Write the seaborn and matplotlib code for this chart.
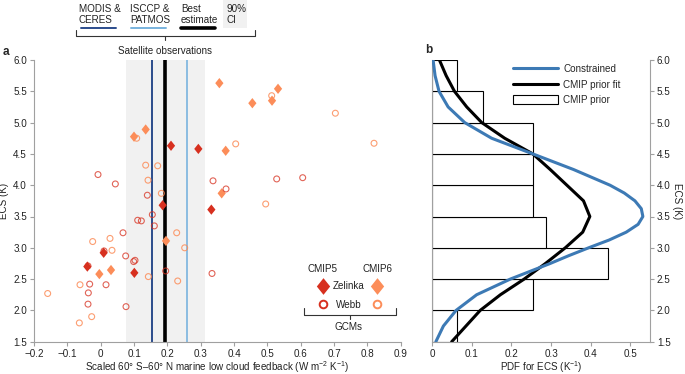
import numpy as np
import pandas as pd
import matplotlib
matplotlib.use("Agg")
import matplotlib.pyplot as plt
import seaborn as sns
from matplotlib.lines import Line2D
from matplotlib.patches import Patch, Rectangle
from matplotlib.path import Path

# ---------------- data ----------------
# Panel a: GCM estimates (x: scaled low-cloud feedback, y: ECS)
zel5_x = [0.211, 0.293, 0.186, 0.332, -0.040, 0.009, 0.101]
zel5_y = [4.63, 4.58, 3.68, 3.61, 2.70, 2.92, 2.60]
zel6_x = [0.100, 0.135, 0.356, 0.375, 0.363, 0.196, -0.004, 0.031, 0.455, 0.532, 0.514]
zel6_y = [4.775, 4.89, 5.63, 4.55, 3.87, 3.11, 2.58, 2.645, 5.31, 5.54, 5.35]
webb5_x = [-0.008, 0.044, 0.140, 0.337, 0.376, 0.155, 0.111, 0.122, 0.161, 0.067,
           0.075, 0.103, 0.099, 0.195, 0.334, -0.033, 0.016, -0.037, -0.038, 0.076,
           0.528, 0.606, 0.010, -0.038]
webb5_y = [4.17, 4.02, 3.84, 4.07, 3.94, 3.53, 3.44, 3.43, 3.35, 3.24,
           2.87, 2.80, 2.78, 2.63, 2.59, 2.42, 2.41, 2.28, 2.10, 2.06,
           4.10, 4.12, 2.95, 2.71]
webb6_x = [0.135, 0.171, 0.142, 0.182, 0.228, 0.252, 0.143, 0.231, -0.024, 0.028,
           0.034, -0.062, -0.159, -0.027, -0.064, 0.108, 0.405, 0.513, 0.704, 0.820, 0.495]
webb6_y = [4.32, 4.31, 4.08, 3.87, 3.24, 3.00, 2.54, 2.47, 3.10, 3.15,
           2.96, 2.41, 2.27, 1.90, 1.80, 4.75, 4.66, 5.43, 5.15, 4.67, 3.70]

# Satellite observations
obs_ci = [0.076, 0.312]
obs_modis = 0.153
obs_isccp = 0.259
obs_best = 0.192

# Panel b: CMIP prior histogram and PDFs
ecs_edges = [1.5, 2.0, 2.5, 3.0, 3.5, 4.0, 4.5, 5.0, 5.5, 6.0]
prior_density = [0.0635, 0.254, 0.444, 0.286, 0.254, 0.254, 0.254, 0.127, 0.0635]

prior_ecs = [1.5, 1.75, 2.0, 2.25, 2.5, 2.75, 3.0, 3.25, 3.5, 3.75, 4.0, 4.25, 4.5,
             4.75, 5.0, 5.25, 5.5, 5.75, 6.0]
prior_fit = [0.049, 0.085, 0.121, 0.172, 0.232, 0.286, 0.336, 0.380, 0.398, 0.382,
             0.340, 0.298, 0.254, 0.183, 0.125, 0.087, 0.056, 0.035, 0.018]

con_ecs = [1.5, 1.75, 2.0, 2.25, 2.5, 2.75, 2.875, 3.0, 3.125, 3.25, 3.375, 3.5,
           3.625, 3.75, 3.875, 4.0, 4.25, 4.5, 4.75, 5.0, 5.25, 5.5, 5.75, 6.0]
con_pdf = [0.009, 0.028, 0.060, 0.112, 0.197, 0.298, 0.345, 0.395, 0.447, 0.490,
           0.520, 0.532, 0.528, 0.512, 0.485, 0.449, 0.357, 0.254, 0.150, 0.082,
           0.040, 0.017, 0.007, 0.002]

# tick labels
a_xticks = [-0.2, -0.1, 0.0, 0.1, 0.2, 0.3, 0.4, 0.5, 0.6, 0.7, 0.8, 0.9]
a_xticklabels = ["\u22120.2", "\u22120.1", "0", "0.1", "0.2", "0.3", "0.4", "0.5",
                 "0.6", "0.7", "0.8", "0.9"]
ecs_ticks = [1.5, 2.0, 2.5, 3.0, 3.5, 4.0, 4.5, 5.0, 5.5, 6.0]
ecs_ticklabels = ["1.5", "2.0", "2.5", "3.0", "3.5", "4.0", "4.5", "5.0", "5.5", "6.0"]
b_xticks = [0, 0.1, 0.2, 0.3, 0.4, 0.5]
b_xticklabels = ["0", "0.1", "0.2", "0.3", "0.4", "0.5"]

# ---------------- style ----------------
FS = 7.1
sns.set_theme(style="ticks")
plt.rcParams["font.family"] = ["Liberation Sans", "DejaVu Sans"]
plt.rcParams["font.size"] = FS
SPINE = "#a0a0a0"
TXT = "#222222"
plt.rcParams.update({
    "axes.edgecolor": SPINE, "xtick.color": SPINE, "ytick.color": SPINE,
    "xtick.labelcolor": TXT, "ytick.labelcolor": TXT, "axes.labelcolor": TXT,
    "xtick.labelsize": FS, "ytick.labelsize": FS, "axes.labelsize": FS,
    "xtick.major.size": 3, "ytick.major.size": 3,
    "xtick.major.width": 0.8, "ytick.major.width": 0.8,
    "axes.linewidth": 0.8,
    "mathtext.fontset": "custom",
    "mathtext.rm": "Liberation Sans",
    "mathtext.it": "Liberation Sans:italic",
    "mathtext.bf": "Liberation Sans:bold",
})

C5 = "#d7301f"
C6 = "#fc8d59"
C_MODIS = "#2b4c8c"
C_ISCCP = "#79b3de"
C_BAND = "#f1f1f1"
C_BLUE = "#3d7ab5"

fig = plt.figure(figsize=(6.85, 3.74), dpi=100)
W, H = 685, 374
axa = fig.add_axes([34 / W, 1 - 341.7 / H, 366.7 / W, 281.7 / H])
axb = fig.add_axes([432.3 / W, 1 - 341.7 / H, 217.7 / W, 281.7 / H])

# ---------------- panel a ----------------
axa.axvspan(obs_ci[0], obs_ci[1], color=C_BAND, lw=0, zorder=0)
axa.axvline(obs_modis, color=C_MODIS, lw=1.4, zorder=1)
axa.axvline(obs_isccp, color=C_ISCCP, lw=1.2, zorder=1)
axa.axvline(obs_best, color="black", lw=2.6, zorder=1)

diamond = Path([(0, 1), (0.8, 0), (0, -1), (-0.8, 0), (0, 1)],
               [Path.MOVETO, Path.LINETO, Path.LINETO, Path.LINETO, Path.CLOSEPOLY])

sns.scatterplot(x=zel5_x, y=zel5_y, marker=diamond, s=55, color=C5,
                edgecolor="none", linewidth=0, ax=axa, zorder=3)
sns.scatterplot(x=zel6_x, y=zel6_y, marker=diamond, s=55, color=C6,
                edgecolor="none", linewidth=0, ax=axa, zorder=3)
sns.scatterplot(x=webb5_x, y=webb5_y, marker="o", s=18, facecolor="none",
                edgecolor=C5, linewidth=0.8, alpha=0.75, ax=axa, zorder=4)
sns.scatterplot(x=webb6_x, y=webb6_y, marker="o", s=18, facecolor="none",
                edgecolor=C6, linewidth=0.8, alpha=0.85, ax=axa, zorder=4)

axa.set_xlim(-0.2, 0.9)
axa.set_ylim(1.5, 6.0)
axa.set_xticks(a_xticks)
axa.set_xticklabels(a_xticklabels)
axa.set_yticks(ecs_ticks)
axa.set_yticklabels(ecs_ticklabels)
axa.tick_params(pad=2)
sns.despine(ax=axa)
axa.set_xlabel("Scaled 60\u00b0 S\u201360\u00b0 N marine low cloud feedback (W m$^{-2}$ K$^{-1}$)",
               labelpad=0.5)
axa.set_ylabel("ECS (K)", labelpad=3)

# scatter legend (2 x 2 grid of keys)
h_z5 = Line2D([], [], ls="none", marker=diamond, ms=12, color=C5, mec="none")
h_w5 = Line2D([], [], ls="none", marker="o", ms=5.5, mfc="none", mec=C5, mew=1.4)
h_z6 = Line2D([], [], ls="none", marker=diamond, ms=12, color=C6, mec="none")
h_w6 = Line2D([], [], ls="none", marker="o", ms=5.5, mfc="none", mec=C6, mew=1.4)
handle_w = 1.0
col_sp = 54.0 / (FS * 100 / 72) - handle_w
leg = axa.legend(handles=[h_z5, h_w5, h_z6, h_w6], labels=["", "", "", ""], ncol=2,
                 frameon=False, handlelength=handle_w, handletextpad=0.0,
                 columnspacing=col_sp, labelspacing=0.85, borderpad=0,
                 loc="center", bbox_to_anchor=(0.8615, 0.1644), fontsize=FS)
T = axa.transAxes
axa.text(0.7854, 0.258, "CMIP5", transform=T, ha="center", va="center", fontsize=FS, color=TXT)
axa.text(0.9354, 0.258, "CMIP6", transform=T, ha="center", va="center", fontsize=FS, color=TXT)
axa.text(0.859, 0.1988, "Zelinka", transform=T, ha="center", va="center", fontsize=FS, color=TXT)
axa.text(0.859, 0.1303, "Webb", transform=T, ha="center", va="center", fontsize=FS, color=TXT)
axa.text(0.859, 0.0522, "GCMs", transform=T, ha="center", va="center", fontsize=FS, color=TXT)
for xs, ys in [([0.7363, 0.7363, 0.9872, 0.9872], [0.1196, 0.0948, 0.0948, 0.1196]),
               ([0.8617, 0.8617], [0.0948, 0.0806])]:
    axa.add_line(Line2D(xs, ys, transform=T, color="#333333", lw=0.8, clip_on=False))

# satellite observation key above the panel
ytop = 1.200
for xt, s in [(0.1227, "MODIS &\nCERES"), (0.2618, "ISCCP &\nPATMOS"),
              (0.4009, "Best\nestimate")]:
    axa.text(xt, ytop, s, transform=T, ha="left", va="top",
             fontsize=FS, color=TXT, linespacing=1.2)
axa.add_patch(Rectangle((0.5154, 1.1136), 0.0655, 0.0994, transform=T,
                        facecolor=C_BAND, edgecolor="none", clip_on=False))
axa.text(0.5236, ytop, "90%\nCI", transform=T, ha="left", va="top",
         fontsize=FS, color=TXT, linespacing=1.2)
axa.add_line(Line2D([0.128, 0.2236], [1.1148, 1.1148], transform=T, color=C_MODIS,
                    lw=1.4, clip_on=False))
axa.add_line(Line2D([0.2645, 0.36], [1.1148, 1.1148], transform=T, color=C_ISCCP,
                    lw=1.4, clip_on=False))
axa.add_line(Line2D([0.4009, 0.4936], [1.1148, 1.1148], transform=T, color="black",
                    lw=2.6, clip_on=False))
for xs, ys in [([0.1145, 0.1145, 0.6027, 0.6027], [1.1065, 1.085, 1.085, 1.1065]),
               ([0.3572, 0.3572], [1.085, 1.071])]:
    axa.add_line(Line2D(xs, ys, transform=T, color="#333333", lw=0.8, clip_on=False))
axa.text(0.3572, 1.032, "Satellite observations", transform=T, ha="center",
         va="center", fontsize=FS, color=TXT)

# ---------------- panel b ----------------
centers = [(a + b) / 2 for a, b in zip(ecs_edges[:-1], ecs_edges[1:])]
sns.histplot(y=centers, weights=prior_density, bins=ecs_edges, stat="count",
             color="white", edgecolor="black", linewidth=0.8, alpha=1, ax=axb, zorder=1)
sns.lineplot(x=prior_fit, y=prior_ecs, sort=False, estimator=None, color="black",
             lw=2.2, ax=axb, zorder=2)
sns.lineplot(x=con_pdf, y=con_ecs, sort=False, estimator=None, color=C_BLUE,
             lw=2.2, ax=axb, zorder=3)
axb.set_xlim(0, 0.55)
axb.set_ylim(1.5, 6.0)
axb.set_xticks(b_xticks)
axb.set_xticklabels(b_xticklabels)
axb.set_yticks(ecs_ticks)
axb.set_yticklabels(ecs_ticklabels)
axb.yaxis.tick_right()
axb.yaxis.set_label_position("right")
axb.spines["top"].set_visible(False)
axb.tick_params(pad=2)
axb.set_xlabel("PDF for ECS (K$^{-1}$)", labelpad=0.5)
axb.set_ylabel("ECS (K)", rotation=270, labelpad=8)
hb = [Line2D([], [], color=C_BLUE, lw=2.2),
      Line2D([], [], color="black", lw=2.2),
      Patch(facecolor="white", edgecolor="black", lw=0.8)]
axb.legend(handles=hb, labels=["Constrained", "CMIP prior fit", "CMIP prior"],
           loc="upper left", bbox_to_anchor=(0.37, 0.985), frameon=False,
           borderpad=0, borderaxespad=0, handlelength=4.6, handleheight=1.0,
           handletextpad=0.5, labelspacing=0.55, fontsize=FS)

fig.text(3 / W, 1 - 52 / H, "a", fontsize=8.5, fontweight="bold", ha="left", va="center")
fig.text(425 / W, 1 - 50 / H, "b", fontsize=8.5, fontweight="bold", ha="left", va="center")

fig.savefig("out.png", dpi=100)
